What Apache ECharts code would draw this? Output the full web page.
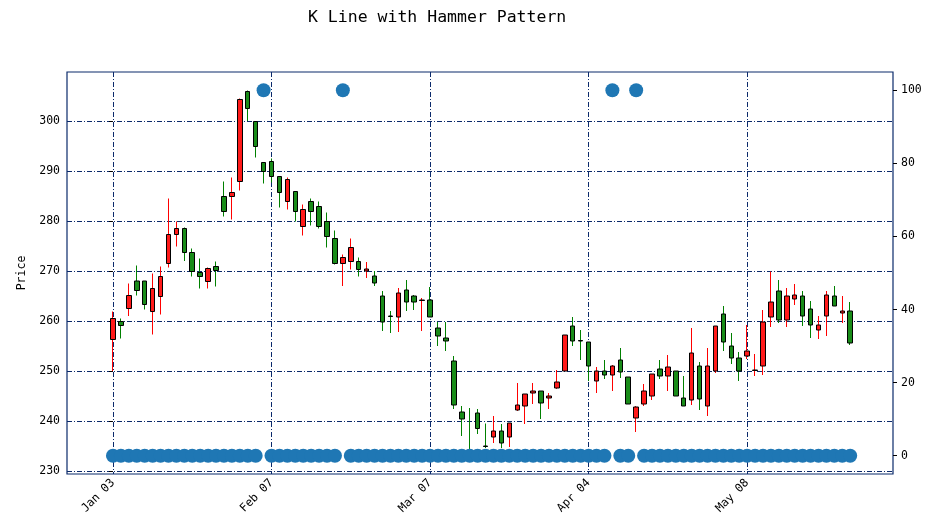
<!DOCTYPE html>
<html><head><meta charset="utf-8">
<script src="https://cdn.jsdelivr.net/npm/echarts@6/dist/echarts.min.js"></script>
<style>html,body{margin:0;padding:0;background:#fff}#c{width:935px;height:531px}</style>
</head><body><div id="c"></div>
<script>
const dates = [
 "2023-01-03","2023-01-04","2023-01-05","2023-01-06",
 "2023-01-09","2023-01-10","2023-01-11","2023-01-12","2023-01-13",
 "2023-01-16","2023-01-17","2023-01-18","2023-01-19","2023-01-20",
 "2023-01-30","2023-01-31","2023-02-01","2023-02-02","2023-02-03",
 "2023-02-06","2023-02-07","2023-02-08","2023-02-09","2023-02-10",
 "2023-02-13","2023-02-14","2023-02-15","2023-02-16","2023-02-17",
 "2023-02-20","2023-02-21","2023-02-22","2023-02-23","2023-02-24",
 "2023-02-27","2023-02-28","2023-03-01","2023-03-02","2023-03-03",
 "2023-03-06","2023-03-07","2023-03-08","2023-03-09","2023-03-10",
 "2023-03-13","2023-03-14","2023-03-15","2023-03-16","2023-03-17",
 "2023-03-20","2023-03-21","2023-03-22","2023-03-23","2023-03-24",
 "2023-03-27","2023-03-28","2023-03-29","2023-03-30","2023-03-31",
 "2023-04-03","2023-04-04","2023-04-06","2023-04-07",
 "2023-04-10","2023-04-11","2023-04-12","2023-04-13","2023-04-14",
 "2023-04-17","2023-04-18","2023-04-19","2023-04-20","2023-04-21",
 "2023-04-24","2023-04-25","2023-04-26","2023-04-27","2023-04-28",
 "2023-05-04","2023-05-05",
 "2023-05-08","2023-05-09","2023-05-10","2023-05-11","2023-05-12",
 "2023-05-15","2023-05-16","2023-05-17","2023-05-18","2023-05-19",
 "2023-05-22","2023-05-23","2023-05-24","2023-05-25"
];
const opens = [
 256.3,259.9,262.5,268.0,268.0,261.9,264.9,271.5,277.3,278.5,
 273.7,269.7,267.9,270.9,284.9,284.9,287.9,305.9,299.9,291.7,
 291.9,288.9,283.9,285.9,278.9,283.9,282.9,279.9,276.5,271.5,
 271.9,271.9,270.0,269.0,265.0,261.0,260.8,266.2,265.0,264.1,
 264.2,258.6,256.6,252.0,241.8,234.2,241.6,235.0,236.8,238.0,
 236.8,242.2,243.0,245.6,246.0,244.6,246.6,250.0,259.0,256.1,
 255.8,248.0,250.0,249.2,252.2,248.8,240.6,243.4,245.0,250.4,
 249.0,250.0,244.6,244.2,251.0,243.0,250.0,261.4,255.0,252.6,
 253.0,250.1,251.0,260.8,266.0,260.2,264.4,265.0,262.4,258.2,
 261.0,265.0,261.6,262.0
];
const closes = [
 260.5,259.1,265.1,266.1,263.3,266.5,268.9,277.3,278.5,273.7,
 269.9,268.9,270.5,270.1,281.9,285.7,304.3,302.5,294.9,289.9,
 288.9,285.7,288.3,281.9,282.3,281.9,278.9,276.9,271.5,272.7,
 274.7,270.3,270.4,267.6,259.8,260.9,265.6,263.8,263.8,264.2,
 260.8,257.0,256.0,243.2,240.4,233.5,238.5,234.9,238.0,235.6,
 239.6,243.2,245.4,246.0,243.6,245.0,247.8,257.2,256.0,256.0,
 251.0,250.0,249.2,251.0,249.8,243.4,242.8,246.0,249.4,249.0,
 250.8,245.0,243.0,253.6,244.4,251.0,259.0,255.8,252.6,250.0,
 254.0,250.2,259.8,263.8,260.2,265.0,265.2,261.0,259.2,259.2,
 265.2,263.0,262.0,255.6
];
const lows = [
 250.0,256.5,261.0,265.1,262.3,257.3,261.3,270.7,274.9,272.0,
 268.9,266.5,266.5,266.9,280.9,280.3,286.1,300.0,292.7,287.5,
 287.7,282.7,282.3,279.9,277.1,279.1,278.5,274.7,271.3,267.0,
 270.3,268.9,268.6,267.0,258.0,257.6,257.8,262.0,262.2,258.0,
 260.8,255.0,254.0,242.4,237.0,233.1,237.4,234.6,235.6,234.6,
 234.8,242.0,239.4,243.4,240.4,242.4,246.4,250.0,255.0,252.2,
 248.0,245.6,248.4,246.0,248.6,243.4,237.8,243.0,244.2,248.4,
 246.0,245.0,243.0,243.2,242.2,241.0,249.6,254.0,251.4,248.0,
 252.4,249.0,249.2,258.8,259.6,258.8,263.2,259.0,256.6,256.4,
 257.0,263.0,259.6,255.2
];
const highs = [
 261.9,260.5,267.5,271.1,268.0,269.5,270.9,284.5,279.9,278.7,
 274.5,272.5,270.7,271.9,287.9,288.7,304.5,306.1,300.0,291.8,
 292.5,289.0,288.7,286.0,283.3,284.5,283.9,281.7,278.1,273.3,
 276.5,272.7,271.8,270.0,266.0,262.0,266.6,268.2,265.2,264.6,
 266.8,259.8,259.8,253.0,243.0,242.6,242.4,239.5,241.0,239.4,
 239.6,247.6,245.4,247.6,246.0,245.6,250.2,257.2,260.8,258.2,
 255.8,250.8,252.2,251.2,254.6,248.8,243.0,247.4,249.4,252.2,
 253.2,250.0,249.0,258.6,251.8,254.6,259.0,263.0,257.6,253.8,
 259.2,253.4,262.2,269.9,268.2,266.6,267.4,266.0,264.0,261.0,
 266.0,267.0,265.0,263.8
];
const hammerSignal = [
 0,0,0,0,0,0,0,0,0,0,
 0,0,0,0,0,0,0,0,0,100,
 0,0,0,0,0,0,0,0,0,100,
 0,0,0,0,0,0,0,0,0,0,
 0,0,0,0,0,0,0,0,0,0,
 0,0,0,0,0,0,0,0,0,0,
 0,0,0,100,0,0,100,0,0,0,
 0,0,0,0,0,0,0,0,0,0,
 0,0,0,0,0,0,0,0,0,0,
 0,0,0,0
];
const priceTicks = [230,240,250,260,270,280,290,300];
const signalTicks = [0,20,40,60,80,100];
const dateTickIdx = [0,20,40,60,80];
const monthNames = ["Jan","Feb","Mar","Apr","May","Jun","Jul","Aug","Sep","Oct","Nov","Dec"];

const navy = '#0b2a6b';
const dashDot = [5,2,1,2];
const lblFont = 'DejaVu Sans Mono';
const idx = dates.map((d,i)=>i);
const wickData = idx.map(i => [i, opens[i], closes[i], lows[i], highs[i]]);
const bodyData = idx.map(i => [i, opens[i], closes[i], Math.min(opens[i],closes[i]), Math.max(opens[i],closes[i])]);
const sigData = idx.map(i => [i, hammerSignal[i]]);
function fmtDate(v){
  const d = dates[Math.round(v)];
  if(!d) return '';
  const p = d.split('-');
  return monthNames[parseInt(p[1],10)-1] + ' ' + p[2];
}
const chart = echarts.init(document.getElementById('c'), null, {renderer:'canvas'});
chart.setOption({
  animation:false,
  backgroundColor:'#ffffff',
  title:{text:'K Line with Hammer Pattern', left:303, top:4,
    textStyle:{fontFamily:lblFont, fontSize:16.5, fontWeight:'normal', color:'#000'}},
  grid:{left:67, right:42, top:72, bottom:57, show:true, borderColor:navy, borderWidth:1.2, backgroundColor:'transparent', containLabel:false},
  xAxis:{type:'value', min:-5.8, max:98.4,
    axisLine:{show:false},
    axisTick:{show:true, customValues:dateTickIdx, length:4, lineStyle:{color:'#000'}},
    axisLabel:{customValues:dateTickIdx, rotate:45, margin:7, formatter:fmtDate,
      fontFamily:lblFont, fontSize:11.5, color:'#000'},
    splitLine:{show:true, lineStyle:{color:navy, type:dashDot, width:1}}},
  yAxis:[
    {type:'value', min:229.4, max:309.8, name:'Price', nameLocation:'middle', nameGap:37,
      nameTextStyle:{fontFamily:lblFont, fontSize:11.5, color:'#000'},
      axisLine:{show:false},
      axisTick:{show:true, customValues:priceTicks, length:4, lineStyle:{color:'#000'}},
      axisLabel:{customValues:priceTicks, margin:7, fontFamily:lblFont, fontSize:11.5, color:'#000'},
      splitLine:{show:true, lineStyle:{color:navy, type:dashDot, width:1}}},
    {type:'value', min:-5, max:105, position:'right',
      axisLine:{show:false},
      axisTick:{show:true, customValues:signalTicks, length:4, lineStyle:{color:'#000'}},
      axisLabel:{customValues:signalTicks, margin:8, fontFamily:lblFont, fontSize:11.5, color:'#000'},
      splitLine:{show:false}}
  ],
  series:[
    {type:'candlestick', data:wickData, encode:{x:0, y:[1,2,3,4]}, barWidth:1, z:2,
      itemStyle:{color:'#ff0000', color0:'#008000', borderColor:'#ff0000', borderColor0:'#008000', borderWidth:1}},
    {type:'candlestick', data:bodyData, encode:{x:0, y:[1,2,3,4]}, barWidth:5, z:3,
      itemStyle:{color:'#ff1a1a', color0:'#198c19', borderColor:'#000', borderColor0:'#000', borderWidth:1}},
    {type:'scatter', yAxisIndex:1, data:sigData, symbolSize:14, z:5,
      itemStyle:{color:'#1f77b4', opacity:1}}
  ]
});
</script></body></html>
